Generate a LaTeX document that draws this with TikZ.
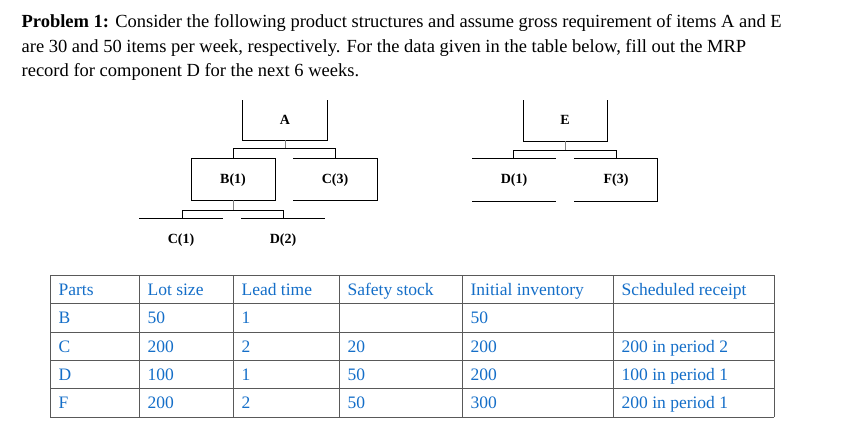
\documentclass[tikz,border=0pt]{standalone}
\usepackage{fontspec}
\setmainfont{Liberation Serif}
\definecolor{cellblue}{RGB}{20,110,200}
\tikzset{
	part/.style = {font=\fontsize{14}{16}\selectfont\bfseries},
	cell/.style = {anchor=base west, text=cellblue, font=\fontsize{17.5}{19}\selectfont},
	headline/.style = {anchor=base west, font=\fontsize{18.5}{21}\selectfont}
}
\begin{document}
\begin{tikzpicture}[x=1pt, y=-1pt, line width=0.6pt]
	\useasboundingbox (0,0) rectangle (849,429);
	% problem text
	\node[headline] (l1) at (18,27) {\textbf{Problem 1:} Consider the following product structures and assume gross requirement of items A and E};
	\node[headline] (l2) at (18,52) {are 30 and 50 items per week, respectively. For the data given in the table below, fill out the MRP};
	\node[headline] (l3) at (18,76) {record for component D for the next 6 weeks.};
	% product A
	\draw (242,100) -- (242,140) -- (327,140) -- (327,100);
	\node[part] (A) at (285,120) {A};
	\draw[gray] (285,140) -- (285,148);
	\draw (233,158) -- (233,148) -- (335,148) -- (335,158);
	\draw (191,158) rectangle (275,200);
	\node[part] (B) at (233,180) {B(1)};
	\draw (293,158) -- (377,158) -- (377,200) -- (293,200);
	\node[part] (C3) at (335,180) {C(3)};
	\draw[gray] (233,200) -- (233,210);
	\draw (182,218) -- (182,210) -- (283,210) -- (283,218);
	\draw (139,218) -- (223,218);
	\draw (241,218) -- (325,218);
	\node[part] (C1) at (181,240) {C(1)};
	\node[part] (D2) at (283,240) {D(2)};
	% product E
	\draw (523,100) -- (523,141) -- (607,141) -- (607,100);
	\node[part] (E) at (565,120) {E};
	\draw[gray] (565,141) -- (565,150);
	\draw (513,158) -- (513,150) -- (616,150) -- (616,158);
	\draw (472,158) -- (556,158);
	\draw (472,201) -- (556,201);
	\node[part] (D1) at (514,180) {D(1)};
	\draw (574,158) -- (657,158) -- (657,201) -- (574,201);
	\node[part] (F3) at (616,180) {F(3)};
	% table
	\foreach \y in {275,303,332,360,388,417}
		\draw[gray!70!black] (50,\y) -- (774,\y);
	\foreach \x in {50,139,233,339,462,613,774}
		\draw[gray!70!black] (\x,275) -- (\x,417);
	\foreach [count=\r] \a/\b/\c/\d/\e/\f in {
		Parts/Lot size/Lead time/Safety stock/Initial inventory/Scheduled receipt,
		B/50/1//50/,
		C/200/2/20/200/200 in period 2,
		D/100/1/50/200/100 in period 1,
		F/200/2/50/300/200 in period 1}
	{
		\pgfmathsetmacro\ry{275+28.4*(\r-0.5)+6}
		\node[cell] (a\r) at (55,\ry) {\a};
		\node[cell] (b\r) at (144,\ry) {\b};
		\node[cell] (c\r) at (238,\ry) {\c};
		\node[cell] (d\r) at (344,\ry) {\d};
		\node[cell] (e\r) at (467,\ry) {\e};
		\node[cell] (f\r) at (618,\ry) {\f};
	}
\end{tikzpicture}
\end{document}
